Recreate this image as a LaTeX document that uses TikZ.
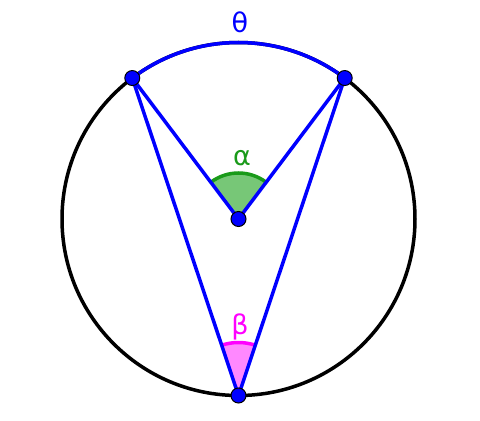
\documentclass[tikz,border=0pt]{standalone}
\usepackage{fontspec}
\setmainfont{DejaVu Sans}
\usetikzlibrary{calc}
\definecolor{grn}{HTML}{1A9A1A}
\definecolor{grnfill}{HTML}{77C777}
\definecolor{mag}{HTML}{FF00FF}
\definecolor{magfill}{HTML}{FF88FF}
\begin{document}
\begin{tikzpicture}[x=1pt,y=1pt,
  dot/.style={circle,fill=blue,draw=black,line width=1pt,inner sep=0pt,minimum size=15pt},
  seg/.style={blue,line width=3.5pt},
  lbl/.style={font=\fontsize{27}{27}\selectfont,inner sep=0pt}]
\useasboundingbox (0,0) rectangle (480,421);
\coordinate (O) at (238.5,202);
\coordinate (A) at ($(O)+(127:176.5)$);
\coordinate (B) at ($(O)+(53:176.5)$);
\coordinate (C) at ($(O)+(270:176.5)$);
% alpha sector
\fill[grnfill] (O) -- ($(O)+(53:46)$) arc[start angle=53,end angle=127,radius=46] -- cycle;
\draw[grn,line width=3.5pt] ($(O)+(53:46)$) arc[start angle=53,end angle=127,radius=46];
% beta sector
\fill[magfill] (C) -- ($(C)+(71.5:53)$) arc[start angle=71.5,end angle=108.5,radius=53] -- cycle;
\draw[mag,line width=3.5pt] ($(C)+(71.5:53)$) arc[start angle=71.5,end angle=108.5,radius=53];
% circle
\draw[black,line width=3.5pt] (O) circle[radius=176.5];
\draw[seg] (B) arc[start angle=53,end angle=127,radius=176.5];
\draw[seg,line join=round] (A) -- (O) -- (B);
\draw[seg,line join=round] (A) -- (C) -- (B);
\node[dot] (a) at (A) {};
\node[dot] (b) at (B) {};
\node[dot] (o) at (O) {};
\node[dot] (c) at (C) {};
\node[lbl,text=grn] (alpha) at (242,263) {α};
\node[lbl,text=mag] (beta) at (240,94) {β};
\node[lbl,text=blue] (theta) at (240,399) {θ};
\end{tikzpicture}
\end{document}
